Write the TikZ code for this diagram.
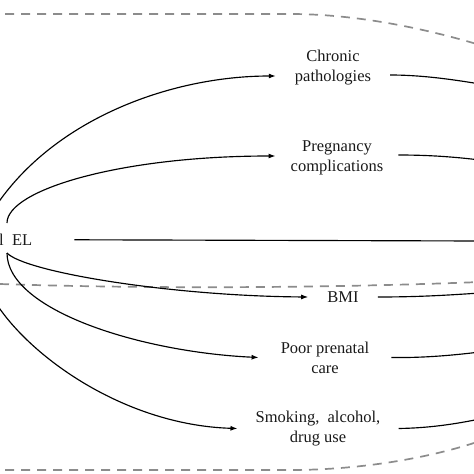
\documentclass[tikz,border=0pt]{standalone}
\usepackage{fontspec}
\setmainfont{Liberation Serif}
\usetikzlibrary{arrows.meta}
\begin{document}
\begin{tikzpicture}[x=1pt,y=-1pt,
  lbl/.style={font=\fontsize{16.5}{20}\selectfont, align=center, inner ysep=0pt, text=black!90},
  arr/.style={line width=1.15pt, black, -{Latex[length=7pt,width=5pt]}},
  ln/.style={line width=1.15pt, black},
  bound/.style={line width=1.7pt, black!45, dash pattern=on 9pt off 7pt}]
\useasboundingbox (0,0) rectangle (474,474);
% nodes
\node[lbl, inner xsep=19pt] (chronic) at (333,68) {Chronic\\pathologies};
\node[lbl, inner xsep=15pt] (preg) at (337,157.5) {Pregnancy\\complications};
\node[lbl, inner xsep=19pt] (bmi) at (343,297) {BMI};
\node[lbl, inner xsep=22pt] (poor) at (325,357.5) {Poor prenatal\\care};
\node[lbl, inner xsep=18pt] (smoke) at (318,428.5) {Smoking,\ \ alcohol,\\drug use};
\node[lbl, inner sep=0pt, anchor=base west] (el) at (-1,245.5) {l\enspace EL};
% start / end coordinates
\coordinate (s1) at (-8,212);
\coordinate (a1) at (7,223);
\coordinate (a2) at (7,253);
\coordinate (s6) at (-10,293);
\coordinate (r1) at (480,84);
\coordinate (r2) at (480,160);
\coordinate (r3) at (480,241);
\coordinate (r4) at (480,293);
\coordinate (r5) at (480,352);
\coordinate (r6) at (480,419);
% dashed boundaries
\draw[bound] (5,14) -- (290,14) .. controls (360,14) and (430,30) .. (480,45);
\draw[bound] (0,284) .. controls (150,289) and (330,288) .. (480,282);
\draw[bound] (5,470) -- (290,470) .. controls (360,470) and (430,458) .. (480,441);
% arrows into mediators
\draw[arr] (s1) .. controls (50,120) and (170,76) .. ([yshift=-8pt]chronic.west);
\draw[arr] (a1) .. controls (7,190) and (120,156) .. ([yshift=1.5pt]preg.west);
\draw[arr] (a2) .. controls (25,272) and (170,296) .. (bmi.west);
\draw[arr] (a2) .. controls (7,310) and (140,352) .. (poor.west);
\draw[arr] (s6) .. controls (20,350) and (120,425) .. (smoke.west);
% direct line
\draw[ln] ([xshift=42pt]el.east) -- (r3);
% lines out of mediators
\draw[ln] ([yshift=-7pt]chronic.east) .. controls (420,75) and (450,79) .. (r1);
\draw[ln] ([yshift=2.5pt]preg.east) .. controls (430,155) and (455,157) .. (r2);
\draw[ln] (bmi.east) .. controls (420,297) and (450,295) .. (r4);
\draw[ln] (poor.east) .. controls (425,358) and (455,355) .. (r5);
\draw[ln] (smoke.east) .. controls (430,428) and (455,424) .. (r6);
\end{tikzpicture}
\end{document}
